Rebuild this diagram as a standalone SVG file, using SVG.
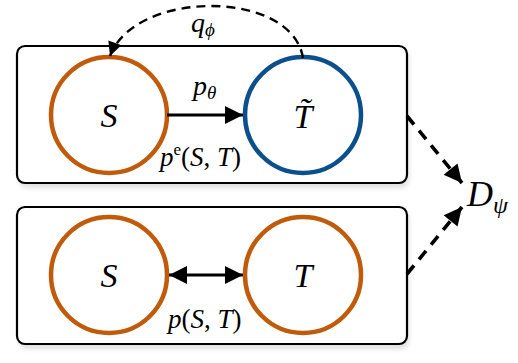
<svg xmlns="http://www.w3.org/2000/svg" width="518" height="363" viewBox="0 0 518 363">
<defs>
<style>
.box{fill:#fff;stroke:#000;stroke-width:2.2}
.shadow{fill:#000;opacity:0.12;filter:url(#blur)}
.orange{fill:none;stroke:#BF5B0A;stroke-width:4.5}
.blue{fill:none;stroke:#0B4F8C;stroke-width:4.5}
.m{font-family:"Liberation Serif","DejaVu Serif",serif;font-style:italic;fill:#000}
.u{font-style:normal}
.solid{stroke:#000;stroke-width:3.2;fill:none}
.dash{stroke:#000;stroke-width:2.4;fill:none;stroke-dasharray:9,6}
.dash2{stroke:#000;stroke-width:3.6;fill:none;stroke-dasharray:11,8}
</style>
<filter id="blur" x="-10%" y="-10%" width="120%" height="130%"><feGaussianBlur stdDeviation="2.5"/></filter>
<marker id="ah" viewBox="0 0 10 10" refX="10" refY="5" markerWidth="16" markerHeight="14" markerUnits="userSpaceOnUse" orient="auto">
<path d="M0,0 L10,5 L0,10 z" fill="#000"/>
</marker>
<marker id="ahs" viewBox="0 0 10 10" refX="10" refY="5" markerWidth="22" markerHeight="18" markerUnits="userSpaceOnUse" orient="auto-start-reverse">
<path d="M0,0 L10,5 L0,10 z" fill="#000"/>
</marker>
<marker id="ahd" viewBox="0 0 10 10" refX="10" refY="5" markerWidth="22" markerHeight="18" markerUnits="userSpaceOnUse" orient="auto">
<path d="M0,0 L10,5 L0,10 z" fill="#000"/>
</marker>
</defs>

<g id="box-top">
<rect class="shadow" x="19" y="49" width="390" height="139" rx="8"/>
<rect class="box" x="17" y="46" width="390" height="137" rx="8"/>
</g>
<g id="box-bottom">
<rect class="shadow" x="19" y="210" width="390" height="139" rx="8"/>
<rect class="box" x="17" y="207" width="390" height="137" rx="8"/>
</g>

<g id="node-S-top">
<circle class="orange" cx="109" cy="115" r="58"/>
<text class="m" x="109" y="127" font-size="34" text-anchor="middle">S</text>
</g>
<g id="node-T-tilde">
<circle class="blue" cx="303" cy="115" r="58"/>
<text class="m" x="303" y="128" font-size="34" text-anchor="middle">T̃</text>
</g>
<g id="node-S-bottom">
<circle class="orange" cx="109" cy="275" r="58"/>
<text class="m" x="109" y="287" font-size="34" text-anchor="middle">S</text>
</g>
<g id="node-T">
<circle class="orange" cx="303" cy="275" r="58"/>
<text class="m" x="303" y="287" font-size="34" text-anchor="middle">T</text>
</g>
<g id="node-D">
<text class="m" x="467" y="206" font-size="36">D<tspan font-size="24" dy="7">ψ</tspan></text>
</g>

<g id="connectors">
<line class="solid" x1="167" y1="115" x2="243" y2="115" marker-end="url(#ahs)"/>
<line class="solid" x1="169" y1="275" x2="243" y2="275" marker-start="url(#ahs)" marker-end="url(#ahs)"/>
<path class="dash" d="M303,58 C292,-11 135,-11 110,56" marker-end="url(#ah)"/>
<path class="dash2" d="M407,116 L462,183" marker-end="url(#ahd)"/>
<path class="dash2" d="M407,274 L462,207" marker-end="url(#ahd)"/>
</g>

<g id="labels">
<text class="m" x="191" y="32" font-size="28">q<tspan font-size="19" dy="4">ϕ</tspan></text>
<text class="m" x="193" y="95" font-size="28">p<tspan font-size="19" dy="4">θ</tspan></text>
<text class="m" x="160" y="166" font-size="27">p<tspan class="u" font-size="17" dy="-11">e</tspan><tspan class="u" dy="11">(</tspan>S<tspan class="u">,</tspan> T<tspan class="u">)</tspan></text>
<text class="m" x="168" y="328" font-size="27">p<tspan class="u">(</tspan>S<tspan class="u">,</tspan> T<tspan class="u">)</tspan></text>
</g>
</svg>
